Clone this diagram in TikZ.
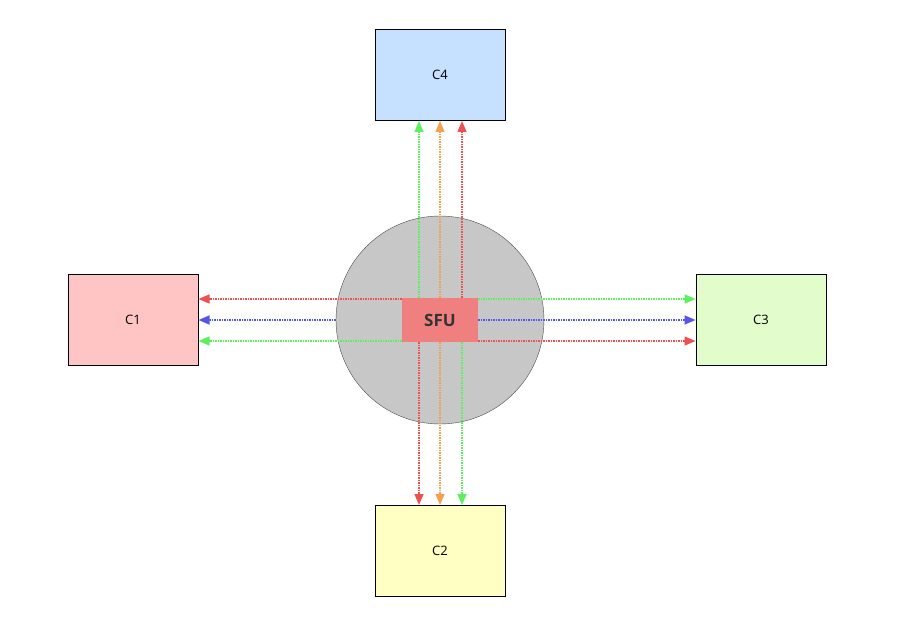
\documentclass[tikz,border=0pt]{standalone}
\usepackage{fontspec}
\setmainfont{Open Sans}
\usetikzlibrary{arrows.meta}
\definecolor{cgreen}{HTML}{5CF05C}
\definecolor{cred}{HTML}{EE5050}
\definecolor{corange}{HTML}{F5A050}
\definecolor{cblue}{HTML}{5555EE}
\begin{document}
\begin{tikzpicture}[x=1pt,y=-1pt,
  box/.style={draw=black, line width=1pt, minimum width=130pt, minimum height=91pt, inner sep=0pt, font=\fontsize{13}{15}\selectfont},
  flow/.style={densely dotted, line width=1.5pt, -{Triangle[length=11pt,width=9pt]}}]
  \useasboundingbox (0,0) rectangle (909,631);
  \node[circle, draw=black!70, fill=black!22, minimum size=208pt, inner sep=0pt] (hub) at (440,320) {};
  \node[box, fill={rgb,255:red,255;green,196;blue,196}] (c1) at (133,320) {C1};
  \node[box, fill={rgb,255:red,198;green,224;blue,255}] (c4) at (440,75) {C4};
  \node[box, fill={rgb,255:red,227;green,252;blue,203}] (c3) at (761,320) {C3};
  \node[box, fill={rgb,255:red,255;green,255;blue,196}] (c2) at (440,551) {C2};
  \node[fill={rgb,255:red,240;green,128;blue,128}, minimum width=76pt, minimum height=44pt, inner sep=0pt, font=\bfseries\fontsize{17}{19}\selectfont, text=black!80] (sfu) at (440,320) {SFU};
  % up to C4
  \draw[flow, cgreen] ([xshift=-21pt]sfu.north) -- ([xshift=-21pt]c4.south);
  \draw[flow, corange] (sfu.north) -- (c4.south);
  \draw[flow, cred] ([xshift=22pt]sfu.north) -- ([xshift=22pt]c4.south);
  % down to C2
  \draw[flow, cred] ([xshift=-21pt]sfu.south) -- ([xshift=-21pt]c2.north);
  \draw[flow, corange] (sfu.south) -- (c2.north);
  \draw[flow, cgreen] ([xshift=22pt]sfu.south) -- ([xshift=22pt]c2.north);
  % left to C1
  \draw[flow, cgreen] ([yshift=-21pt]sfu.west) -- ([yshift=-21pt]c1.east);
  \draw[flow, cblue] (hub.west) -- (c1.east);
  \draw[flow, cred] ([yshift=21pt]sfu.west) -- ([yshift=21pt]c1.east);
  % right to C3
  \draw[flow, cred] ([yshift=-21pt]sfu.east) -- ([yshift=-21pt]c3.west);
  \draw[flow, cblue] (sfu.east) -- (c3.west);
  \draw[flow, cgreen] ([yshift=21pt]sfu.east) -- ([yshift=21pt]c3.west);
\end{tikzpicture}
\end{document}
